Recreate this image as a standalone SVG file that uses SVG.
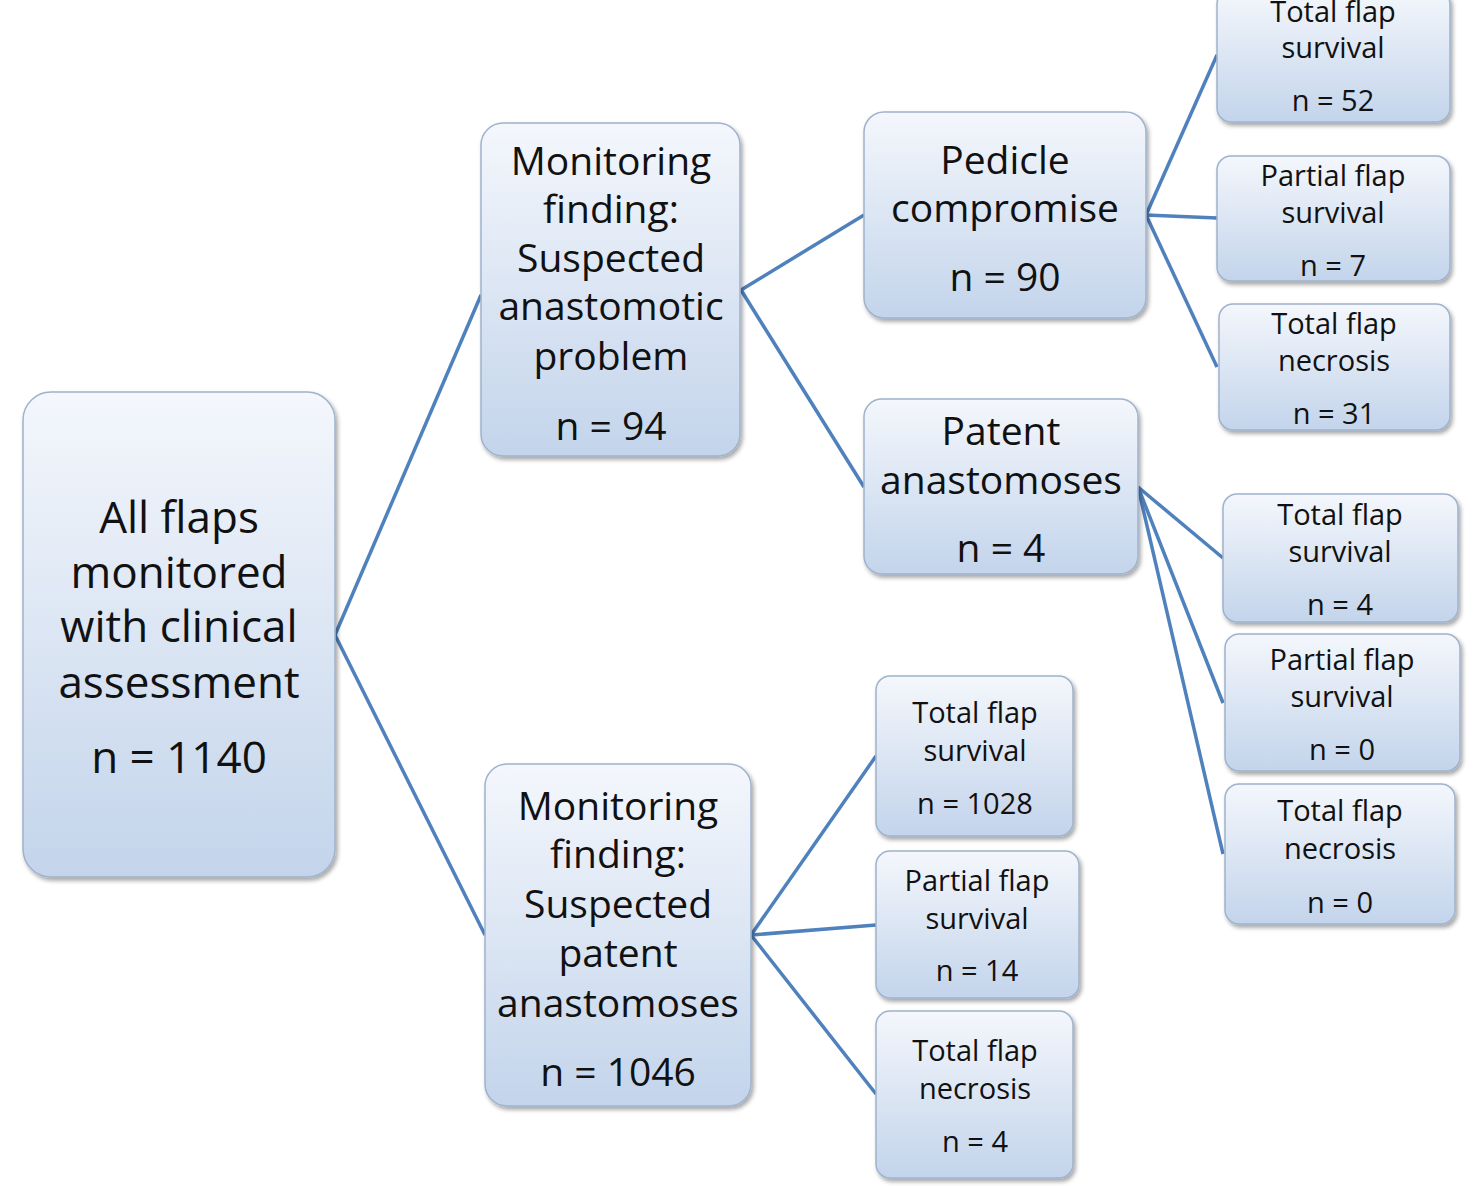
<svg xmlns="http://www.w3.org/2000/svg" width="1476" height="1186" viewBox="0 0 1476 1186">
<defs>
<linearGradient id="g" x1="0" y1="0" x2="0" y2="1"><stop offset="0" stop-color="#f4f7fc"/><stop offset="1" stop-color="#c3d4eb"/></linearGradient>
<filter id="sh" x="-10%" y="-10%" width="130%" height="130%"><feDropShadow dx="2" dy="3" stdDeviation="2" flood-color="#000" flood-opacity="0.35"/></filter>
</defs>
<style>
rect{fill:url(#g);stroke:#9fb3cc;stroke-width:1.5;filter:url(#sh)}
text{font-family:"Open Sans","Noto Sans","DejaVu Sans",sans-serif;fill:#111;text-anchor:middle}
.a{font-size:44px}.b{font-size:39px}.c{font-size:29px}
#conn line{stroke:#4f81bd;stroke-width:3.5}
</style>
<rect width="1476" height="1186" style="fill:#fff;stroke:none;filter:none"/>
<g id="conn">
<line x1="335" y1="635" x2="481" y2="295"/><line x1="335" y1="635" x2="485" y2="935"/>
<line x1="741" y1="290" x2="864" y2="215"/><line x1="741" y1="290" x2="864" y2="487"/>
<line x1="1146" y1="215" x2="1217" y2="55"/><line x1="1146" y1="215" x2="1217" y2="218"/><line x1="1146" y1="215" x2="1217" y2="367"/>
<line x1="1138" y1="487" x2="1223" y2="558"/><line x1="1138" y1="487" x2="1223" y2="703"/><line x1="1138" y1="487" x2="1223" y2="854"/>
<line x1="751" y1="935" x2="876" y2="756"/><line x1="751" y1="935" x2="876" y2="925"/><line x1="751" y1="935" x2="876" y2="1094"/>
</g>
<g id="root"><rect x="23" y="392" width="312" height="485" rx="28"/>
<text class="a" x="179" y="533">All flaps</text><text class="a" x="179" y="588">monitored</text><text class="a" x="179" y="642">with clinical</text><text class="a" x="179" y="698">assessment</text><text class="a" x="179" y="773">n = 1140</text></g>
<g id="mon1"><rect x="481" y="123" width="259" height="333" rx="22"/>
<text class="b" x="611" y="175">Monitoring</text><text class="b" x="611" y="223">finding:</text><text class="b" x="611" y="272">Suspected</text><text class="b" x="611" y="320">anastomotic</text><text class="b" x="611" y="370">problem</text><text class="b" x="611" y="440">n = 94</text></g>
<g id="mon2"><rect x="485" y="764" width="266" height="342" rx="22"/>
<text class="b" x="618" y="820">Monitoring</text><text class="b" x="618" y="868">finding:</text><text class="b" x="618" y="918">Suspected</text><text class="b" x="618" y="967">patent</text><text class="b" x="618" y="1017">anastomoses</text><text class="b" x="618" y="1086">n = 1046</text></g>
<g id="pedicle"><rect x="864" y="112" width="282" height="206" rx="20"/>
<text class="b" x="1005" y="174">Pedicle</text><text class="b" x="1005" y="222">compromise</text><text class="b" x="1005" y="291">n = 90</text></g>
<g id="patent"><rect x="864" y="399" width="274" height="175" rx="18"/>
<text class="b" x="1001" y="445">Patent</text><text class="b" x="1001" y="494">anastomoses</text><text class="b" x="1001" y="562">n = 4</text></g>
<g id="p1"><rect x="1217" y="-10" width="233" height="132" rx="14"/>
<text class="c" x="1333" y="22">Total flap</text><text class="c" x="1333" y="58">survival</text><text class="c" x="1333" y="111">n = 52</text></g>
<g id="p2"><rect x="1217" y="156" width="233" height="125" rx="14"/>
<text class="c" x="1333" y="186">Partial flap</text><text class="c" x="1333" y="223">survival</text><text class="c" x="1333" y="276">n = 7</text></g>
<g id="p3"><rect x="1219" y="304" width="231" height="126" rx="14"/>
<text class="c" x="1334" y="334">Total flap</text><text class="c" x="1334" y="371">necrosis</text><text class="c" x="1334" y="424">n = 31</text></g>
<g id="q1"><rect x="1223" y="494" width="235" height="128" rx="14"/>
<text class="c" x="1340" y="525">Total flap</text><text class="c" x="1340" y="562">survival</text><text class="c" x="1340" y="615">n = 4</text></g>
<g id="q2"><rect x="1225" y="634" width="235" height="137" rx="14"/>
<text class="c" x="1342" y="670">Partial flap</text><text class="c" x="1342" y="707">survival</text><text class="c" x="1342" y="760">n = 0</text></g>
<g id="q3"><rect x="1225" y="784" width="230" height="140" rx="14"/>
<text class="c" x="1340" y="821">Total flap</text><text class="c" x="1340" y="859">necrosis</text><text class="c" x="1340" y="913">n = 0</text></g>
<g id="r1"><rect x="876" y="676" width="197" height="160" rx="14"/>
<text class="c" x="975" y="723">Total flap</text><text class="c" x="975" y="761">survival</text><text class="c" x="975" y="814">n = 1028</text></g>
<g id="r2"><rect x="876" y="851" width="203" height="147" rx="14"/>
<text class="c" x="977" y="891">Partial flap</text><text class="c" x="977" y="929">survival</text><text class="c" x="977" y="981">n = 14</text></g>
<g id="r3"><rect x="876" y="1011" width="197" height="167" rx="14"/>
<text class="c" x="975" y="1061">Total flap</text><text class="c" x="975" y="1099">necrosis</text><text class="c" x="975" y="1152">n = 4</text></g>
</svg>
